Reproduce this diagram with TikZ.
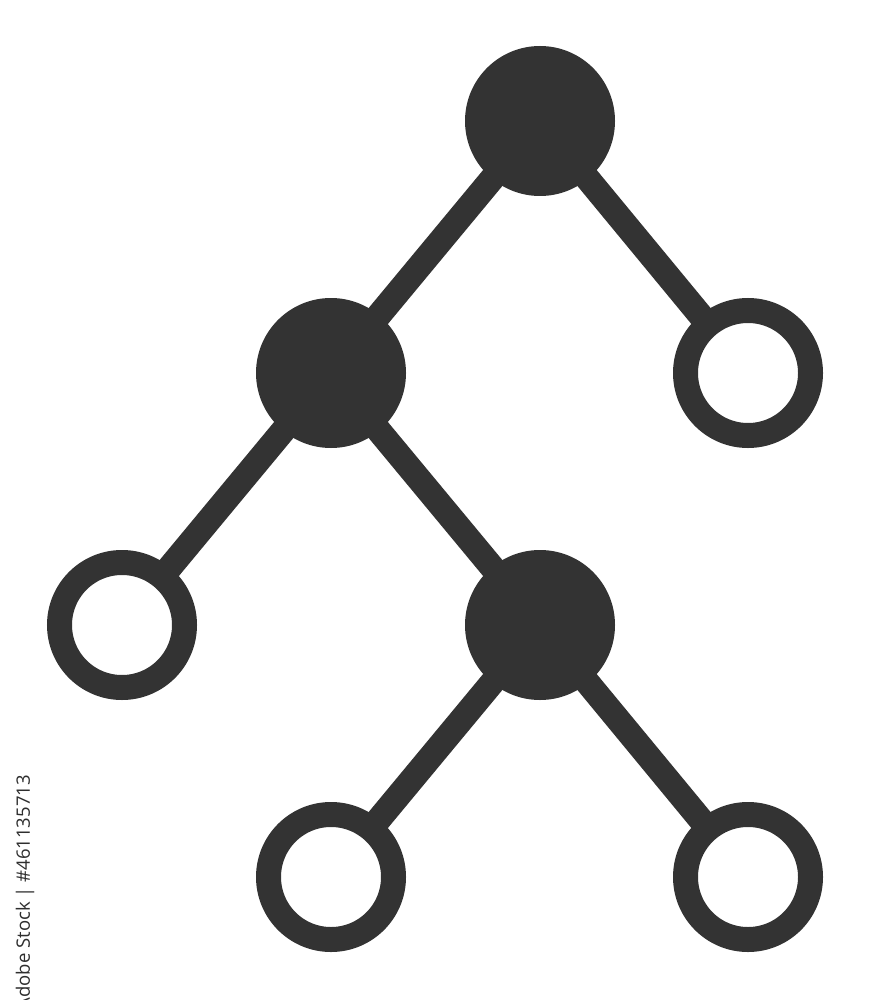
\documentclass[tikz,border=0pt]{standalone}
\usepackage{fontspec}
\newfontfamily\wmfont{Open Sans}
\definecolor{ink}{HTML}{333333}
\begin{document}
\begin{tikzpicture}[x=1pt,y=-1pt,
  filled/.style={circle,fill=ink,minimum size=150pt,inner sep=0pt},
  ring/.style={circle,draw=ink,line width=25pt,minimum size=125pt,inner sep=0pt},
  edge/.style={draw=ink,line width=25pt}]
\useasboundingbox (0,0) rectangle (871,1000);
\clip (0,0) rectangle (871,1000);
\fill[white] (0,0) rectangle (871,1000);
\coordinate (r) at (540,121);
\coordinate (m) at (331,373);
\coordinate (rl) at (748,373);
\coordinate (ll) at (122,625);
\coordinate (lo) at (540,625);
\coordinate (bl) at (331,877);
\coordinate (br) at (748,877);
\draw[edge] (r) -- (m);
\draw[edge] (r) -- (rl);
\draw[edge] (m) -- (ll);
\draw[edge] (m) -- (lo);
\draw[edge] (lo) -- (bl);
\draw[edge] (lo) -- (br);
\node[filled] (nr) at (r) {};
\node[filled] (nm) at (m) {};
\node[filled] (nlo) at (lo) {};
\node[ring,fill=white] (nrl) at (rl) {};
\node[ring,fill=white] (nll) at (ll) {};
\node[ring,fill=white] (nbl) at (bl) {};
\node[ring,fill=white] (nbr) at (br) {};
\node[rotate=90,anchor=east,inner sep=0pt,text=ink!90!black,font=\wmfont\fontsize{18.5}{22}\selectfont] (wm) at (25,775) {Adobe Stock | \#461135713};
\end{tikzpicture}
\end{document}
